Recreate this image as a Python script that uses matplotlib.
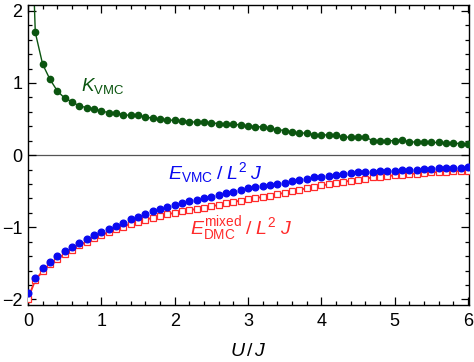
import numpy as np
import matplotlib.pyplot as plt
from matplotlib.ticker import MultipleLocator

plt.rcParams['font.family'] = ['Liberation Sans', 'DejaVu Sans']
plt.rcParams['mathtext.fontset'] = 'custom'
plt.rcParams['mathtext.rm'] = 'Liberation Sans'
plt.rcParams['mathtext.it'] = 'Liberation Sans:italic'

# kinetic term, U/J = 0.1 ... 6.0
k_u = [round(0.1 * i, 1) for i in range(1, 61)]
k_vmc = [1.70, 1.26, 1.05, 0.89, 0.79, 0.74, 0.68, 0.66, 0.64, 0.61,
         0.59, 0.59, 0.56, 0.55, 0.55, 0.53, 0.51, 0.50, 0.49, 0.48,
         0.475, 0.465, 0.455, 0.455, 0.45, 0.435, 0.43, 0.425, 0.42, 0.40,
         0.395, 0.39, 0.37, 0.355, 0.34, 0.32, 0.30, 0.31, 0.28, 0.28,
         0.28, 0.275, 0.255, 0.245, 0.245, 0.25, 0.20, 0.20, 0.20, 0.20,
         0.21, 0.185, 0.18, 0.175, 0.175, 0.175, 0.165, 0.165, 0.16, 0.157]
# line continues above the frame towards U -> 0
k_line_u = [0.05] + k_u
k_line = [3.2] + k_vmc

# energies, U/J = 0.0 ... 6.0
e_u = [round(0.1 * i, 1) for i in range(0, 61)]
e_vmc = [-1.91, -1.70, -1.57, -1.48, -1.40, -1.33, -1.27, -1.22, -1.16, -1.11,
         -1.06, -1.02, -0.98, -0.935, -0.89, -0.86, -0.82, -0.78, -0.745, -0.715,
         -0.685, -0.66, -0.64, -0.62, -0.60, -0.58, -0.555, -0.53, -0.505, -0.48,
         -0.46, -0.44, -0.425, -0.41, -0.395, -0.38, -0.36, -0.34, -0.325, -0.31,
         -0.30, -0.285, -0.27, -0.26, -0.25, -0.24, -0.235, -0.23, -0.225, -0.22,
         -0.215, -0.21, -0.205, -0.20, -0.195, -0.19, -0.185, -0.18, -0.18, -0.175,
         -0.17]
e_dmc = [-1.99, -1.73, -1.61, -1.51, -1.44, -1.37, -1.31, -1.25, -1.20, -1.15,
         -1.11, -1.07, -1.03, -0.99, -0.955, -0.925, -0.895, -0.87, -0.845, -0.82,
         -0.80, -0.78, -0.765, -0.745, -0.73, -0.71, -0.69, -0.67, -0.65, -0.63,
         -0.61, -0.595, -0.58, -0.56, -0.545, -0.52, -0.50, -0.48, -0.46, -0.44,
         -0.42, -0.405, -0.385, -0.37, -0.355, -0.34, -0.325, -0.31, -0.30, -0.29,
         -0.28, -0.27, -0.26, -0.255, -0.25, -0.24, -0.235, -0.23, -0.225, -0.22,
         -0.215]

green = '#0b5510'
blue = '#0a0af0'
red = '#ff2a2a'

fig = plt.figure(figsize=(4.74, 3.62), dpi=100)
ax = fig.add_axes([0.059, 0.157, 0.93, 0.829])

ax.axhline(0, color='#555555', lw=0.9, zorder=1)

ax.plot(k_line_u, k_line, color=green, lw=1.0, zorder=2)
ax.plot(k_u, k_vmc, 'o', color=green, ms=4.5, zorder=3)

ax.plot(e_u, e_dmc, color=red, lw=1.4, zorder=2)
ax.plot(e_u, e_dmc, 's', mfc='white', mec=red, mew=0.9, ms=4.3, zorder=3)
ax.plot(e_u, e_vmc, 'o', color=blue, ms=4.8, zorder=4)

ax.text(1.02, 0.96, r'$K_{\rm VMC}$', color=green, fontsize=13.5, ha='center', va='center')
ax.text(2.56, -0.24, r'$E_{\rm VMC}\;/\;L^2\;J$', color=blue, fontsize=14, ha='center', va='center')
ax.text(2.9, -1.02, r'$E^{\rm mixed}_{\rm DMC}\;/\;L^2\;J$', color=red, fontsize=14, ha='center', va='center')

ax.set_xlim(0, 6.01)
ax.set_ylim(-2.08, 2.08)
ax.xaxis.set_major_locator(MultipleLocator(1))
ax.xaxis.set_minor_locator(MultipleLocator(0.2))
ax.yaxis.set_major_locator(MultipleLocator(1))
ax.yaxis.set_minor_locator(MultipleLocator(0.2))
ax.tick_params(which='both', direction='in', top=True, right=True, labelsize=13, width=0.9)
ax.tick_params(which='major', length=6)
ax.tick_params(axis='x', which='major', pad=6)
ax.tick_params(axis='y', which='major', pad=4)
ax.tick_params(which='minor', length=3)
for s in ax.spines.values():
    s.set_linewidth(1.0)

ax.set_xlabel(r'$U\,/\,J$', fontsize=14, labelpad=9)

fig.savefig('out.png', dpi=100)
